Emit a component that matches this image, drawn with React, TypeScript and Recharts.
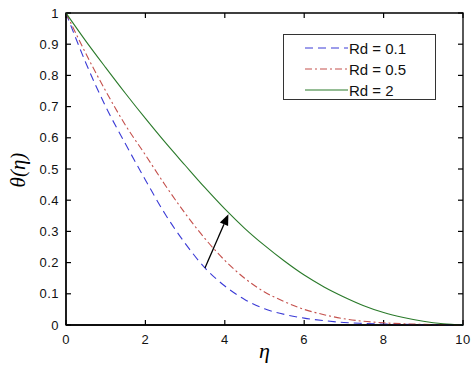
import React from 'react';
import { LineChart, Line, XAxis, YAxis, ReferenceLine, ReferenceArea } from 'recharts';

const etaValues = [0, 0.5, 1, 1.5, 2, 2.5, 3, 3.5, 4, 4.5, 5, 5.5, 6, 6.5, 7, 7.5, 8, 8.5, 9, 9.5, 10];
const rd01 = [1, 0.84, 0.7, 0.58, 0.465, 0.355, 0.262, 0.183, 0.125, 0.082, 0.052, 0.034, 0.022, 0.014, 0.008, 0.005, 0.003, 0.002, 0.001, 0.0005, 0];
const rd05 = [1, 0.87, 0.75, 0.64, 0.545, 0.448, 0.358, 0.277, 0.207, 0.15, 0.106, 0.075, 0.05, 0.033, 0.02, 0.012, 0.007, 0.004, 0.002, 0.001, 0];
const rd2 = [1, 0.91, 0.825, 0.742, 0.662, 0.585, 0.512, 0.44, 0.372, 0.31, 0.255, 0.205, 0.16, 0.122, 0.09, 0.062, 0.04, 0.024, 0.012, 0.004, 0];

const xTicks = [0, 2, 4, 6, 8, 10];
const yTicks = [0, 0.1, 0.2, 0.3, 0.4, 0.5, 0.6, 0.7, 0.8, 0.9, 1];
const seriesNames = ['Rd = 0.1', 'Rd = 0.5', 'Rd = 2'];
const seriesColors = ['#3b3bd6', '#c4504c', '#2a7a2a'];
const seriesDash = ['8 5', '7 3 2 3', undefined];
const arrowFrom = { x: 3.5, y: 0.183 };
const arrowTo = { x: 4.09, y: 0.355 };

const data = etaValues.map((eta, i) => ({ eta, a: rd01[i], b: rd05[i], c: rd2[i] }));

const FONT = 'Liberation Sans, Arial, sans-serif';
const TICK_LEN = 5;
const fmt = (v: number) => (v === 0 ? '0' : v === 1 ? '1' : String(v));

const tickStyle = { fill: '#111', fontSize: 13, fontFamily: FONT, letterSpacing: 0.5 };

// inward tick marks at both ends of a full-span reference line
const TickPair = (props: any) => {
  const { x1, y1, x2, y2 } = props;
  if ([x1, y1, x2, y2].some((v) => typeof v !== 'number' || isNaN(v))) return null;
  const dx = x2 - x1;
  const dy = y2 - y1;
  const len = Math.sqrt(dx * dx + dy * dy) || 1;
  const ux = (dx / len) * TICK_LEN;
  const uy = (dy / len) * TICK_LEN;
  return (
    <g>
      <line x1={x1} y1={y1} x2={x1 + ux} y2={y1 + uy} stroke="#000" strokeWidth={1.2} />
      <line x1={x2} y1={y2} x2={x2 - ux} y2={y2 - uy} stroke="#000" strokeWidth={1.2} />
    </g>
  );
};

const ArrowShape = (props: any) => {
  const { x1, y1, x2, y2 } = props;
  if ([x1, y1, x2, y2].some((v) => typeof v !== 'number' || isNaN(v))) return null;
  const dx = x2 - x1;
  const dy = y2 - y1;
  const len = Math.sqrt(dx * dx + dy * dy) || 1;
  const ux = dx / len;
  const uy = dy / len;
  const hl = 11;
  const hw = 4.5;
  const bx = x2 - ux * hl;
  const by = y2 - uy * hl;
  const pts = `${x2},${y2} ${bx - uy * hw},${by + ux * hw} ${bx + uy * hw},${by - ux * hw}`;
  return (
    <g>
      <line x1={x1} y1={y1} x2={bx} y2={by} stroke="#000" strokeWidth={1.3} />
      <polygon points={pts} fill="#000" />
    </g>
  );
};

const XLabel = (props: any) => {
  const vb = props.viewBox || {};
  return (
    <text
      x={vb.x + vb.width / 2}
      y={358}
      textAnchor="middle"
      fontFamily="Liberation Serif, Times New Roman, serif"
      fontStyle="italic"
      fontSize={22}
      fill="#000"
    >
      η
    </text>
  );
};

const YLabel = () => (
  <text
    x={18}
    y={170}
    transform="rotate(-90 18 170)"
    textAnchor="middle"
    dominantBaseline="central"
    fontFamily="Liberation Serif, Times New Roman, serif"
    fontStyle="italic"
    fontSize={21}
    fill="#000"
  >
    θ(η)
  </text>
);

const LegendBox = () => (
  <div
    style={{
      position: 'absolute',
      left: 283,
      top: 34,
      width: 153,
      height: 66,
      boxSizing: 'border-box',
      border: '1px solid #333',
      background: '#fff',
    }}
  >
    <svg width={151} height={64} style={{ display: 'block' }}>
      {seriesNames.map((name, i) => {
        const y = 13 + i * 21;
        return (
          <g key={name}>
            <line x1={21} x2={64} y1={y} y2={y} stroke={seriesColors[i]} strokeWidth={1} strokeDasharray={seriesDash[i]} />
            <text x={65} y={y} dominantBaseline="central" fontSize={15} fontFamily={FONT} fill="#111">
              {name}
            </text>
          </g>
        );
      })}
    </svg>
  </div>
);

export default function App() {
  return (
    <div style={{ position: 'relative', width: 474, height: 370, background: '#fff' }}>
      <style>{`html,body{margin:0;padding:0;overflow:hidden;background:#fff}`}</style>
      <LineChart width={474} height={370} data={data} margin={{ top: 13, right: 11, left: 0, bottom: 8 }}>
        <XAxis
          dataKey="eta"
          type="number"
          domain={[0, 10]}
          ticks={xTicks}
          tickFormatter={fmt}
          height={37}
          tick={tickStyle}
          tickLine={false}
          tickSize={0}
          tickMargin={10}
          axisLine={{ stroke: '#000', strokeWidth: 1.3 }}
          label={<XLabel />}
        />
        <YAxis
          type="number"
          domain={[0, 1]}
          ticks={yTicks}
          tickFormatter={fmt}
          width={66}
          tick={tickStyle}
          tickLine={false}
          tickSize={0}
          tickMargin={7}
          axisLine={{ stroke: '#000', strokeWidth: 1.3 }}
          label={<YLabel />}
        />
        <ReferenceArea x1={0} x2={10} y1={0} y2={1} fill="none" fillOpacity={0} stroke="#000" strokeWidth={1.3} ifOverflow="visible" />
        {xTicks.map((t) => (
          <ReferenceLine key={`xt${t}`} x={t} ifOverflow="visible" shape={<TickPair />} />
        ))}
        {yTicks.map((t) => (
          <ReferenceLine key={`yt${t}`} y={t} ifOverflow="visible" shape={<TickPair />} />
        ))}
        <Line type="monotone" dataKey="a" name={seriesNames[0]} stroke={seriesColors[0]} strokeWidth={1.1} strokeDasharray={seriesDash[0]} dot={false} isAnimationActive={false} />
        <Line type="monotone" dataKey="b" name={seriesNames[1]} stroke={seriesColors[1]} strokeWidth={1.1} strokeDasharray={seriesDash[1]} dot={false} isAnimationActive={false} />
        <Line type="monotone" dataKey="c" name={seriesNames[2]} stroke={seriesColors[2]} strokeWidth={1.1} dot={false} isAnimationActive={false} />
        <ReferenceLine segment={[arrowFrom, arrowTo]} ifOverflow="visible" shape={<ArrowShape />} />
      </LineChart>
      <LegendBox />
    </div>
  );
}
